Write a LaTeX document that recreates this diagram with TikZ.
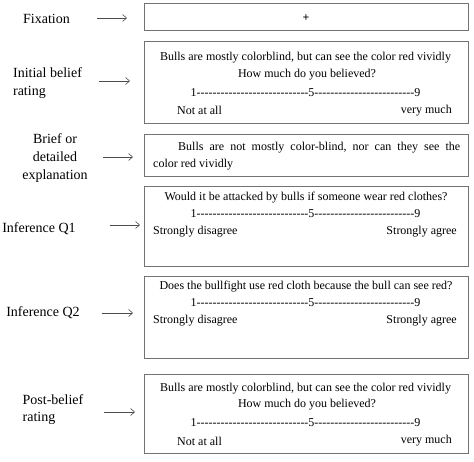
\documentclass[tikz,border=0pt]{standalone}
\usepackage{fontspec}
\setmainfont{Liberation Serif}
\usetikzlibrary{arrows.meta}
\newcommand\hyph[1]{\foreach \k in {1,...,#1}{-}}
\newcommand\scaleline{1\hyph{28}5\hyph{25}9}
\begin{document}
\begin{tikzpicture}[x=1pt,y=-1pt,
  panel/.style={draw=black!55,line width=1pt},
  lab/.style={font=\fontsize{14}{17.5}\selectfont,align=left,inner sep=0pt},
  labc/.style={font=\fontsize{14}{18}\selectfont,align=center,inner sep=0pt},
  txt/.style={font=\fontsize{12}{14}\selectfont,inner sep=0pt},
  arr/.style={draw=black!70,line width=0.6pt,-{Straight Barb[length=4pt,width=7pt]}}]
\useasboundingbox (0,0) rectangle (474,462);
% boxes
\draw[panel] (144.7,4) rectangle (468,31);
\draw[panel] (144.7,42) rectangle (468,124);
\draw[panel] (144.7,135) rectangle (468,177);
\draw[panel] (144.7,187) rectangle (468,267);
\draw[panel] (144.7,277) rectangle (468,359);
\draw[panel] (144.7,374) rectangle (468,453);
% labels
\node[lab] (l1) at (46.5,18.5) {Fixation};
\node[lab] (l2) at (47.5,83) {Initial belief\\rating};
\node[labc] (l3) at (55,158) {Brief or\\detailed\\explanation};
\node[lab] (l4) at (39,229) {Inference Q1};
\node[lab] (l5) at (43,313) {Inference Q2};
\node[lab] (l6) at (53,409.5) {Post-belief\\rating};
% arrows
\coordinate (a1s) at (97,18); \coordinate (a1e) at (127,18);
\coordinate (a2s) at (99,81); \coordinate (a2e) at (130,81);
\coordinate (a3s) at (103,157); \coordinate (a3e) at (133,157);
\coordinate (a4s) at (110,225); \coordinate (a4e) at (140,225);
\coordinate (a5s) at (102,313); \coordinate (a5e) at (133,313);
\coordinate (a6s) at (104,412); \coordinate (a6e) at (135,412);
\draw[arr] (a1s) -- (a1e);
\draw[arr] (a2s) -- (a2e);
\draw[arr] (a3s) -- (a3e);
\draw[arr] (a4s) -- (a4e);
\draw[arr] (a5s) -- (a5e);
\draw[arr] (a6s) -- (a6e);
% box 1
\node[txt,font=\fontsize{12}{14}\selectfont\bfseries] (p) at (306,18) {+};
% box 2
\node[txt] (b2a) at (305.5,58) {Bulls are mostly colorblind, but can see the color red vividly};
\node[txt] (b2b) at (307,75) {How much do you believed?};
\node[txt] (b2c) at (305.5,93) {\scaleline};
\node[txt,anchor=west] (b2d) at (177,110.5) {Not at all};
\node[txt,anchor=east] (b2e) at (452,110.5) {very much};
% box 3
\node[txt,anchor=west] (b3a) at (178,148) {\hbox to 282pt{Bulls\hfill are\hfill not\hfill mostly\hfill color-blind,\hfill nor\hfill can\hfill they\hfill see\hfill the}};
\node[txt,anchor=west] (b3b) at (153,165) {color red vividly};
% box 4
\node[txt] (b4a) at (306,197.5) {Would it be attacked by bulls if someone wear red clothes?};
\node[txt] (b4b) at (305.5,214) {\scaleline};
\node[txt,anchor=west] (b4c) at (153,231.5) {Strongly disagree};
\node[txt,anchor=east] (b4d) at (457,231.5) {Strongly agree};
% box 5
\node[txt] (b5a) at (306,286.5) {Does the bullfight use red cloth because the bull can see red?};
\node[txt] (b5b) at (305.5,303) {\scaleline};
\node[txt,anchor=west] (b5c) at (153,321) {Strongly disagree};
\node[txt,anchor=east] (b5d) at (457,321) {Strongly agree};
% box 6
\node[txt] (b6a) at (305.5,388.5) {Bulls are mostly colorblind, but can see the color red vividly};
\node[txt] (b6b) at (307,405) {How much do you believed?};
\node[txt] (b6c) at (305.5,423) {\scaleline};
\node[txt,anchor=west] (b6d) at (177,441) {Not at all};
\node[txt,anchor=east] (b6e) at (452,441) {very much};
\end{tikzpicture}
\end{document}
